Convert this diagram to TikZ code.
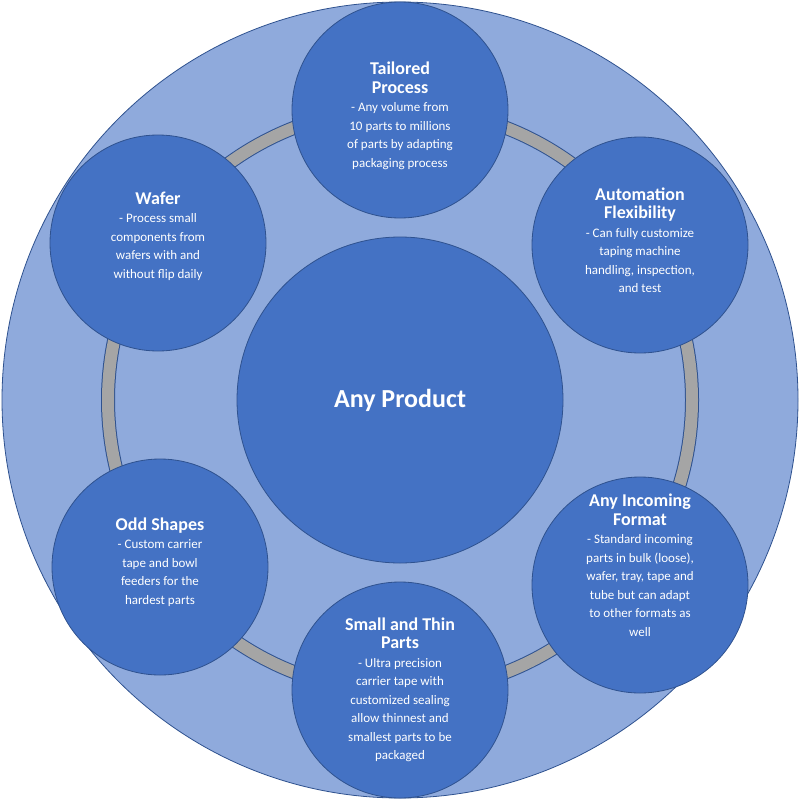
\documentclass[tikz,border=0pt]{standalone}
\usepackage{fontspec}
\setmainfont{Carlito}
\definecolor{outerf}{HTML}{8FAADC}
\definecolor{outerb}{HTML}{2F528F}
\definecolor{blu}{HTML}{4472C4}
\definecolor{ring}{HTML}{A5A5A5}
\newcommand{\ttl}[1]{{\bfseries\fontsize{18}{24}\selectfont #1}}
\begin{document}
\begin{tikzpicture}[x=1pt,y=-1pt,
  small/.style={circle,fill=blu,draw=outerb,line width=0.8pt,minimum size=216pt,inner sep=0pt},
  lab/.style={text=white,align=center,font=\fontsize{13}{18.5}\selectfont}]
\useasboundingbox (0,0) rectangle (800,800);
\node[circle,fill=outerf,draw=outerb,line width=0.8pt,minimum size=796pt,inner sep=0pt] (outer) at (400,400) {};
\draw[outerb,line width=14pt] (400,400) circle (292);
\draw[ring,line width=12pt] (400,400) circle (292);
\node[circle,fill=blu,draw=outerb,line width=0.8pt,minimum size=326pt,inner sep=0pt,text=white,font=\bfseries\fontsize{26}{30}\selectfont] (center) at (400,400) {Any Product};
\node[small] (tp) at (400,110) {};
\node[lab] (tpl) at (400,116) {\ttl{Tailored}\\\ttl{Process}\\- Any volume from\\10 parts  to millions\\of parts by adapting\\packaging process};
\node[small] (af) at (640,245) {};
\node[lab] (afl) at (640,240) {\ttl{Automation}\\\ttl{Flexibility}\\- Can fully customize\\taping machine\\handling, inspection,\\and test};
\node[small] (wf) at (158,243) {};
\node[lab] (wfl) at (158,236) {\ttl{Wafer}\\-  Process small\\components from\\wafers with and\\without flip daily};
\node[small] (os) at (160,567) {};
\node[lab] (osl) at (160,562) {\ttl{Odd Shapes}\\-  Custom carrier\\tape and bowl\\feeders for the\\hardest parts};
\node[small] (ai) at (640,585) {};
\node[lab] (ail) at (640,565) {\ttl{Any Incoming}\\\ttl{Format}\\-  Standard incoming\\parts in bulk (loose),\\wafer, tray, tape and\\tube but can adapt\\to other formats as\\well};
\node[small] (st) at (400,690) {};
\node[lab] (stl) at (400,690) {\ttl{Small and Thin}\\\ttl{Parts}\\-  Ultra precision\\carrier tape with\\customized sealing\\allow thinnest and\\smallest parts to be\\packaged};
\end{tikzpicture}
\end{document}
